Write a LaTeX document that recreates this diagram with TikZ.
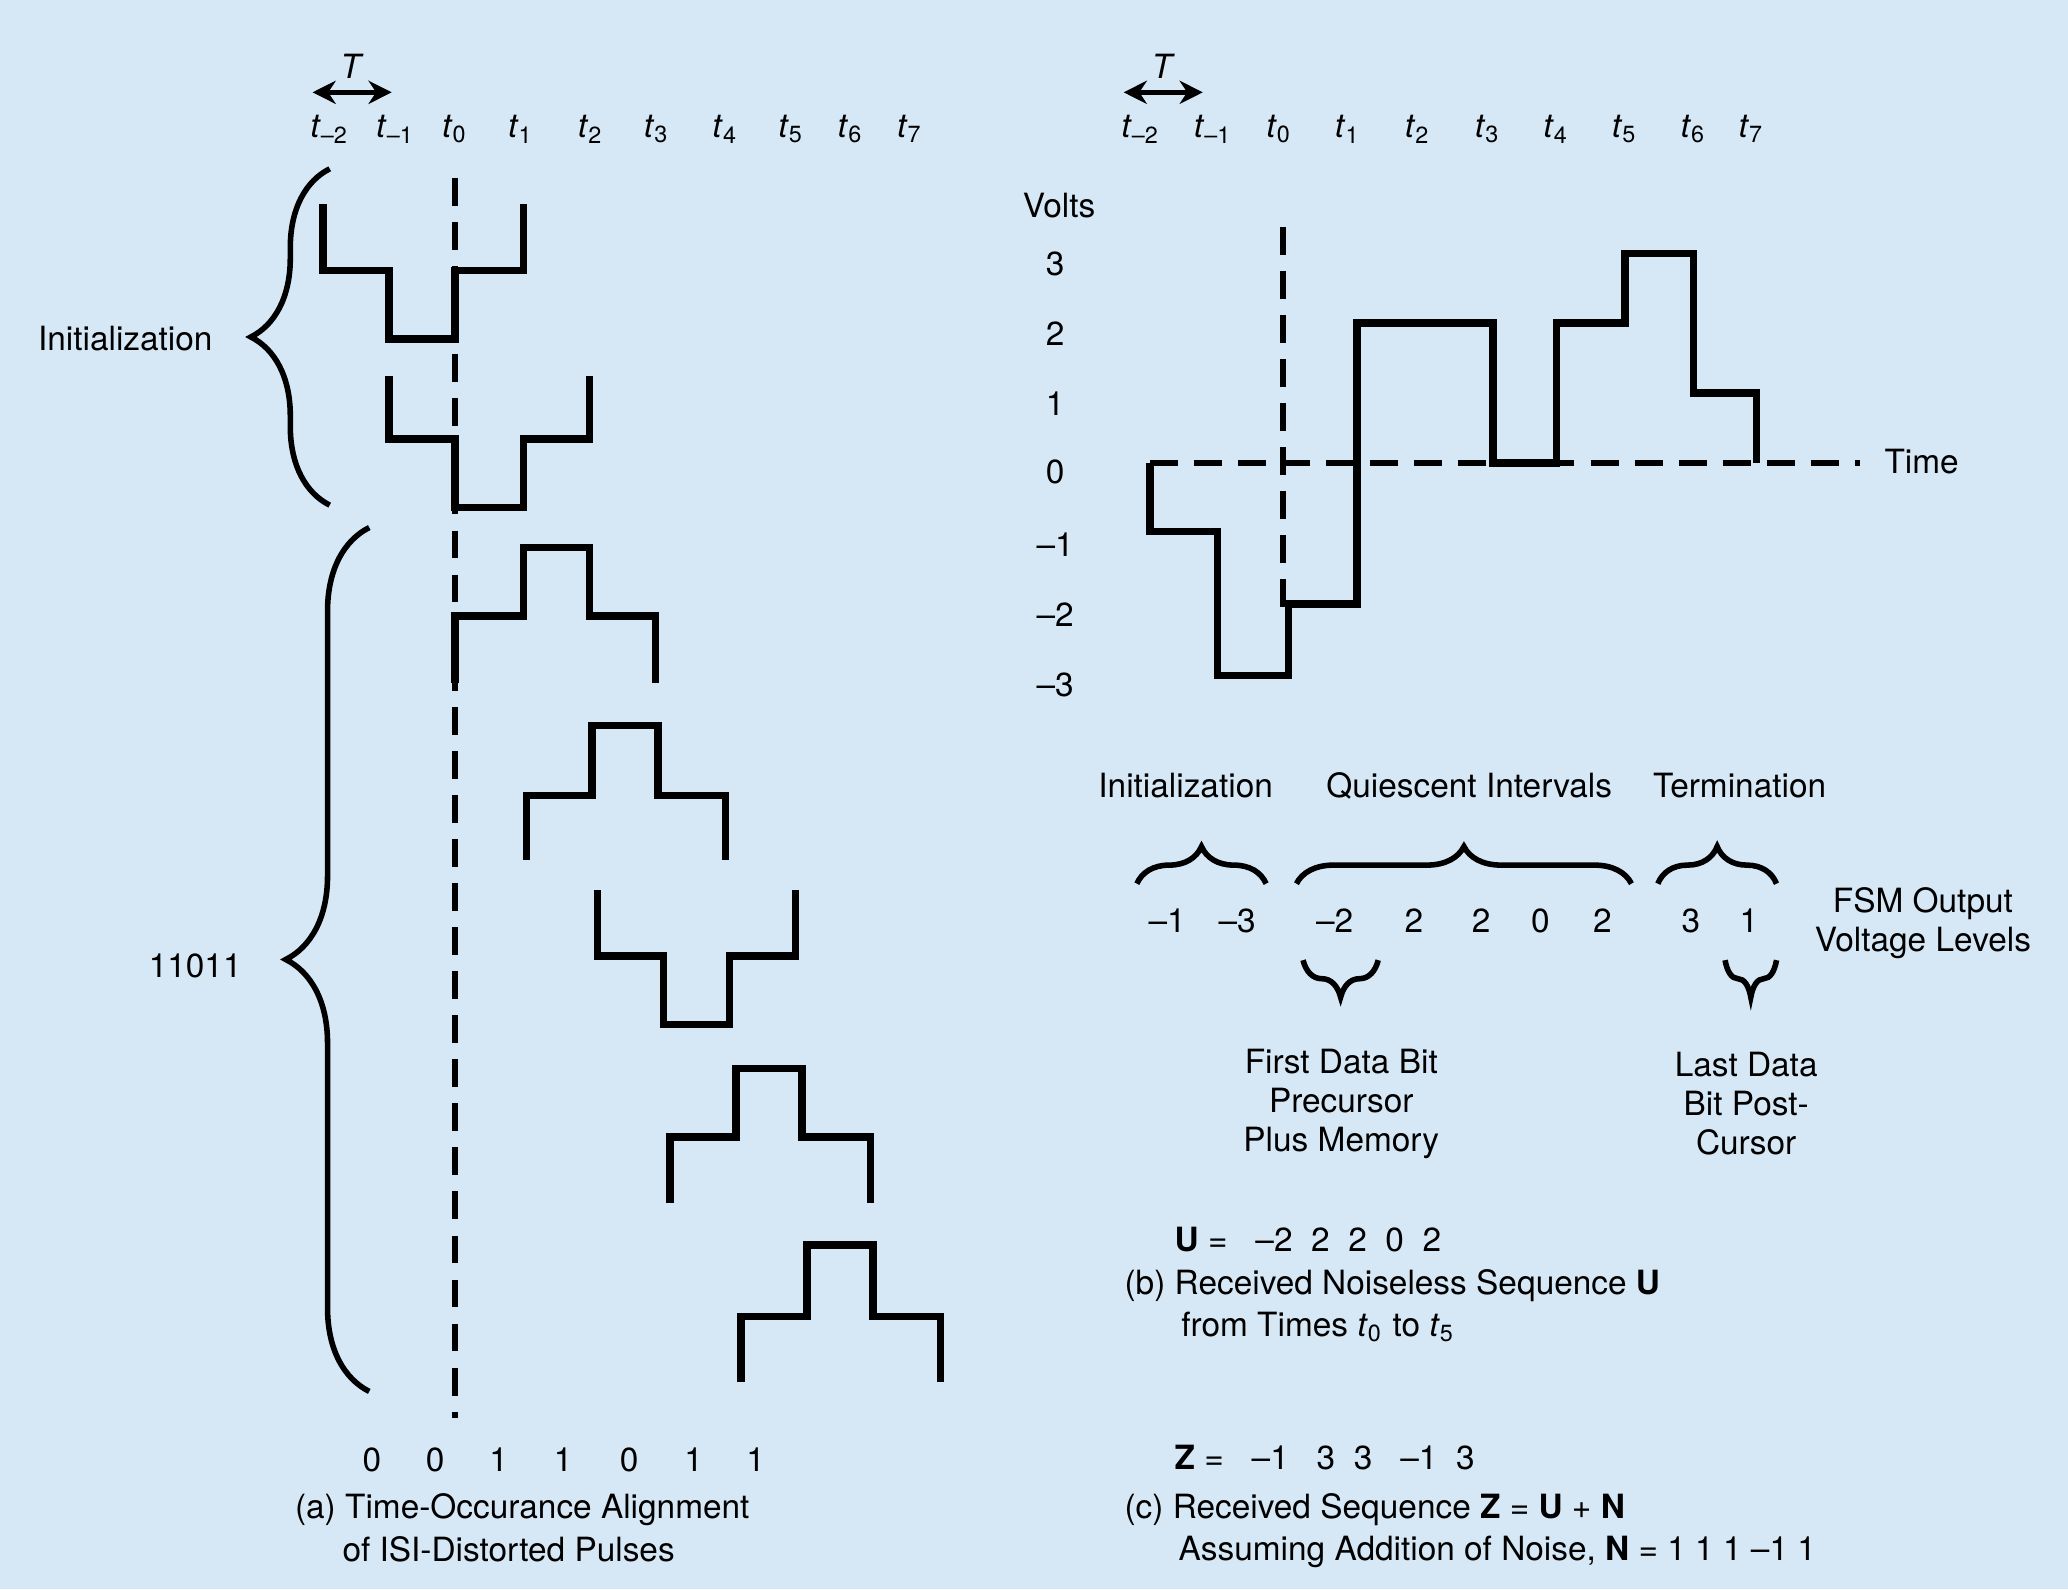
\documentclass[tikz,border=0pt]{standalone}
\usepackage{fontspec}
\setmainfont{TeX Gyre Heros}
\usetikzlibrary{decorations.pathreplacing,arrows.meta}
\definecolor{bg}{HTML}{D6E8F6}
\begin{document}
\begin{tikzpicture}[x=0.01cm,y=-0.01cm,font=\fontsize{7.2}{8.4}\selectfont,
  pulse/.style={line width=1.6pt,line join=miter},
  dsh/.style={line width=1.3pt,dash pattern=on 6pt off 3.5pt},
  brc/.style={line width=1.2pt,decorate,decoration={brace,amplitude=#1}},
  tarr/.style={line width=1.1pt,{Stealth[length=5pt,width=5pt]}-{Stealth[length=5pt,width=5pt]}},
  txt/.style={inner sep=0pt}]
\fill[bg] (0,0) rectangle (1568,1205);
\useasboundingbox (0,0) rectangle (1568,1205);
% ---------- left panel
\coordinate (la) at (237,70); \coordinate (lb) at (297,70);
\draw[tarr] (la) -- (lb);
\node[txt] (lT) at (267,50) {\textit{T}};
\foreach \x/\s [count=\i] in {250/{–2},300/{–1},345/0,395/1,448/2,498/3,550/4,600/5,645/6,690/7}
  \node[txt] (lt\i) at (\x,98) {\textit{t}\textsubscript{\s}};
\draw[dsh] (345,135) -- (345,1075);
\draw[pulse] (245,155)--(245,205)--(295,205)--(295,257)--(345,257)--(345,205)--(397,205)--(397,155);
\draw[pulse] (295,285)--(295,333)--(345,333)--(345,385)--(397,385)--(397,333)--(447,333)--(447,285);
\draw[pulse] (345,518)--(345,467)--(397,467)--(397,415)--(447,415)--(447,467)--(497,467)--(497,518);
\draw[pulse] (399,652)--(399,603)--(449,603)--(449,550)--(499,550)--(499,603)--(550,603)--(550,652);
\draw[pulse] (453,675)--(453,725)--(503,725)--(503,777)--(553,777)--(553,725)--(603,725)--(603,675);
\draw[pulse] (508,912)--(508,862)--(558,862)--(558,810)--(608,810)--(608,862)--(660,862)--(660,912);
\draw[pulse] (562,1048)--(562,998)--(612,998)--(612,944)--(662,944)--(662,998)--(713,998)--(713,1048);
\draw[brc=17pt] (250,383) -- (250,128);
\draw[brc=18pt] (280,1055) -- (280,400);
\node[txt] (init) at (95,257) {Initialization};
\node[txt] (seq) at (148,732) {11011};
\foreach \x/\b [count=\i] in {282/0,330/0,378/1,427/1,477/0,526/1,573/1}
  \node[txt] (bit\i) at (\x,1107) {\b};
\node[txt,anchor=west] (capa1) at (223,1145) {(a) Time-Occurance Alignment};
\node[txt,anchor=west] (capa2) at (259,1175) {of ISI-Distorted Pulses};
% ---------- right panel
\coordinate (ra) at (852,70); \coordinate (rb) at (912,70);
\draw[tarr] (ra) -- (rb);
\node[txt] (rT) at (882,50) {\textit{T}};
\foreach \x/\s [count=\i] in {865/{–2},920/{–1},970/0,1022/1,1075/2,1128/3,1180/4,1232/5,1284/6,1328/7}
  \node[txt] (rt\i) at (\x,98) {\textit{t}\textsubscript{\s}};
\node[txt] (volts) at (803,156) {Volts};
\foreach \v/\y in {3/200,2/253,1/306,0/358,{–1}/413,{–2}/466,{–3}/519}
  \node[txt] at (800,\y) {\v};
\draw[dsh] (872,351) -- (1410,351);
\draw[dsh] (973,172) -- (973,470);
\draw[pulse] (872,351)--(872,403)--(923,403)--(923,512)--(977,512)--(977,458)--(1029,458)--(1029,245)--(1132,245)--(1132,351)--(1180,351)--(1180,245)--(1232,245)--(1232,192)--(1284,192)--(1284,298)--(1332,298)--(1332,351);
\node[txt] (time) at (1457,350) {Time};
\node[txt] (ini) at (899,596) {Initialization};
\node[txt] (qui) at (1114,596) {Quiescent Intervals};
\node[txt] (ter) at (1319,596) {Termination};
\draw[brc=8pt] (862,670) -- (960,670);
\draw[brc=8pt] (983,670) -- (1237,670);
\draw[brc=8pt] (1257,670) -- (1347,670);
\foreach \x/\v in {885/{–1},938/{–3},1012/{–2},1072/2,1123/2,1168/0,1215/2,1282/3,1326/1}
  \node[txt] at (\x,698) {\v};
\node[txt,align=center] (fsm) at (1458,700) {FSM Output\\Voltage Levels};
\draw[brc=8pt] (1045,728) -- (988,728);
\draw[brc=8pt] (1347,728) -- (1308,728);
\node[txt,align=center] (first) at (1017,837) {First Data Bit\\Precursor\\Plus Memory};
\node[txt,align=center] (last) at (1324,837) {Last Data\\Bit Post-\\Cursor};
\node[txt,anchor=west] (U) at (890,940) {\textbf{U} =\ \ \ –2\ \ 2\ \ 2\ \ 0\ \ 2};
\node[txt,anchor=west] (capb1) at (852,975) {(b) Received Noiseless Sequence \textbf{U}};
\node[txt,anchor=west] (capb2) at (895,1006) {from Times \textit{t}\textsubscript{0} to \textit{t}\textsubscript{5}};
\node[txt,anchor=west] (Z) at (890,1105) {\textbf{Z} =\ \ \ –1\ \ \ 3\ \ 3\ \ \ –1\ \ 3};
\node[txt,anchor=west] (capc1) at (852,1145) {(c) Received Sequence \textbf{Z} = \textbf{U} + \textbf{N}};
\node[txt,anchor=west] (capc2) at (893,1177) {Assuming Addition of Noise, \textbf{N} = 1 1 1 –1 1};
\end{tikzpicture}
\end{document}
